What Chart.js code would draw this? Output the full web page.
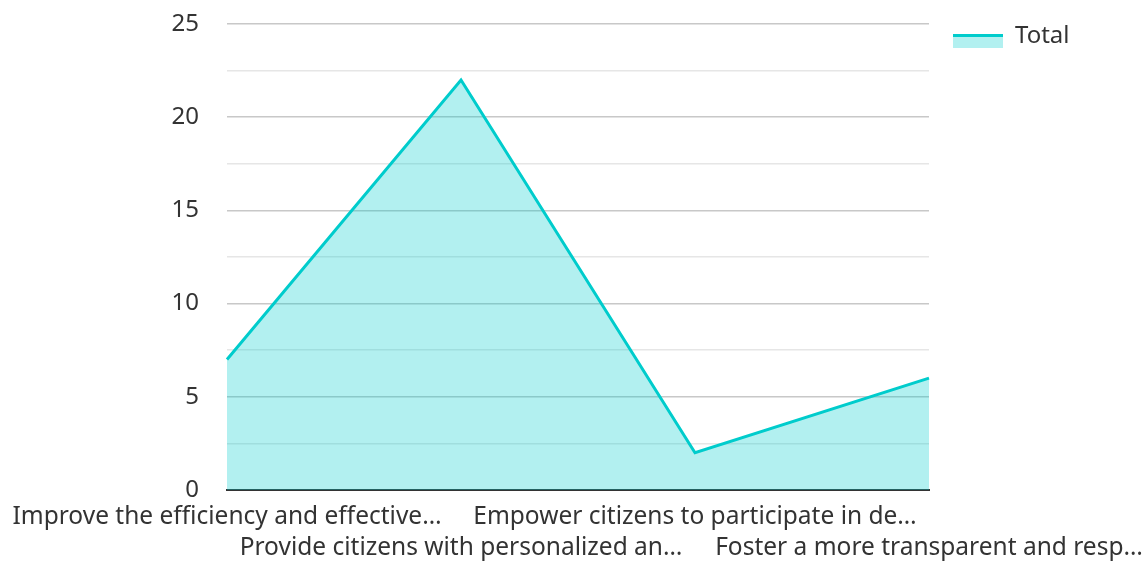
<!DOCTYPE html>
<html>
<head>
<meta charset="utf-8">
<script src="https://cdn.jsdelivr.net/npm/chart.js@4"></script>
<style>
  html, body { margin: 0; padding: 0; background: #fff; }
  #wrap { width: 1147px; height: 561px; }
</style>
</head>
<body>
<div id="wrap"><canvas id="chart"></canvas></div>
<script>
const categories = [
  'Improve the efficiency and effective…',
  'Provide citizens with personalized an…',
  'Empower citizens to participate in de…',
  'Foster a more transparent and resp…'
];
const totalValues = [7, 22, 2, 6];
const yTicks = [0, 5, 10, 15, 20, 25];

const lineColor = '#00cccc';
const fillColor = 'rgba(0, 204, 204, 0.3)';

// legend swatch: thick top line with light fill below
function makeSwatch() {
  const c = document.createElement('canvas');
  c.width = 50;
  c.height = 24;
  const g = c.getContext('2d');
  g.fillStyle = fillColor;
  g.fillRect(0, 10, 50, 14);
  g.fillStyle = lineColor;
  g.fillRect(0, 10, 50, 3);
  return c;
}

Chart.defaults.font.family = '"Noto Sans", "Open Sans", sans-serif';
Chart.defaults.font.size = 24;
Chart.defaults.color = '#333';

const ctx = document.getElementById('chart').getContext('2d');
new Chart(ctx, {
  type: 'line',
  data: {
    labels: categories,
    datasets: [{
      label: 'Total',
      data: totalValues,
      borderColor: lineColor,
      backgroundColor: fillColor,
      borderWidth: 3,
      fill: 'origin',
      tension: 0,
      pointRadius: 0,
      pointStyle: makeSwatch()
    }]
  },
  options: {
    responsive: true,
    maintainAspectRatio: false,
    animation: false,
    layout: { padding: { left: 0, top: 0, right: 0, bottom: -15 } },
    plugins: {
      legend: {
        position: 'right',
        align: 'start',
        labels: {
          usePointStyle: true,
          pointStyleWidth: 50,
          boxHeight: 24,
          padding: 24,
          color: '#333',
          font: { size: 24 }
        }
      },
      tooltip: { enabled: false }
    },
    scales: {
      x: {
        offset: false,
        grid: { display: false, drawTicks: false },
        border: { display: true, color: '#333', width: 2 },
        ticks: {
          maxRotation: 0,
          autoSkip: false,
          padding: 12,
          font: { size: 24.5, lineHeight: 1.265 },
          callback: function(value, index) {
            const label = categories[index];
            return index % 2 === 0 ? [label, ''] : ['', label];
          }
        },
        afterFit: function(scale) {
          scale.paddingLeft = 227;
          scale.paddingRight = 218;
        }
      },
      y: {
        min: 0,
        max: 25,
        border: { display: false },
        grid: {
          drawTicks: false,
          lineWidth: 1.5,
          color: function(c) {
            return c.tick && yTicks.includes(c.tick.value) ? '#c8c8c8' : '#e6e6e6';
          }
        },
        ticks: {
          stepSize: 2.5,
          padding: 28,
          font: { size: 24 },
          callback: function(value) {
            return yTicks.includes(value) ? value : '';
          }
        },
        afterFit: function(scale) {
          scale.paddingTop = 24;
        }
      }
    }
  }
});
</script>
</body>
</html>
